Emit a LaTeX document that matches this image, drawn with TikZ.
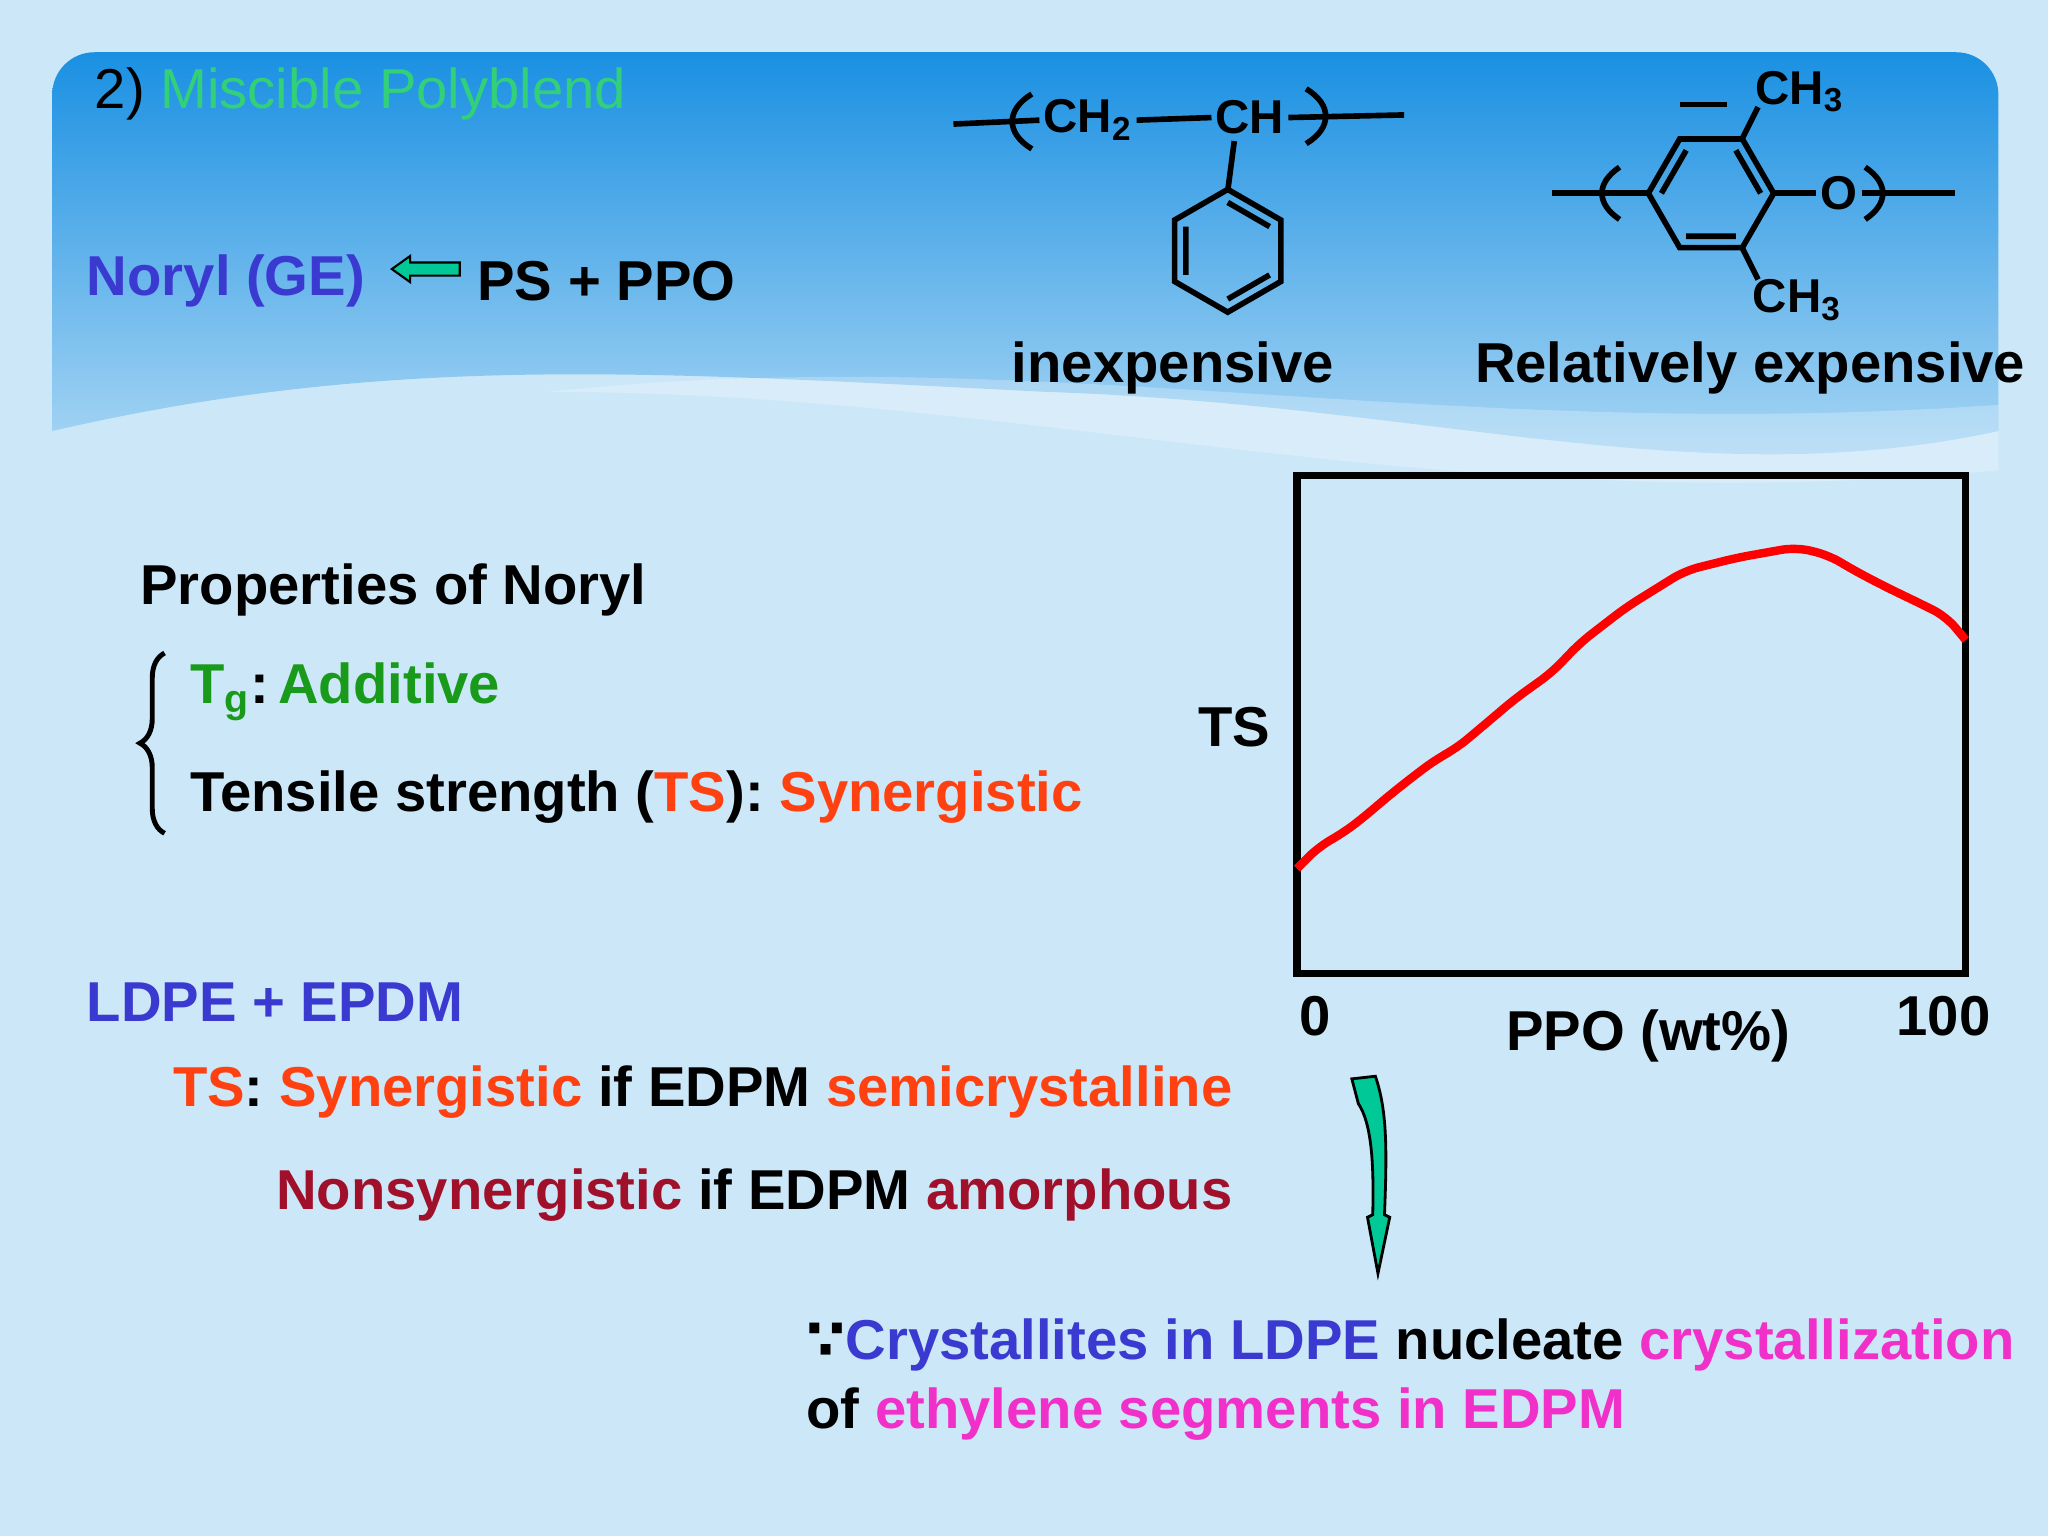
\documentclass[tikz,border=0pt]{standalone}
\usepackage{fontspec}
\setmainfont{Liberation Sans}
\newfontfamily\dejavu{DejaVu Sans}
\usetikzlibrary{decorations.pathreplacing}
\definecolor{bg}{HTML}{CCE8F8}
\definecolor{hdtop}{HTML}{1A90E2}
\definecolor{nblue}{HTML}{3A3AD0}
\definecolor{tgreen}{HTML}{1A9A1A}
\definecolor{lgreen}{HTML}{33D07A}
\definecolor{orred}{HTML}{FF4010}
\definecolor{dred}{HTML}{A0102A}
\definecolor{mag}{HTML}{F030C8}
\definecolor{teal}{HTML}{00C896}
\begin{document}
\begin{tikzpicture}[x=0.013061cm,y=-0.013061cm,
  t/.style={font=\fontsize{16}{18}\selectfont\bfseries,inner sep=0pt},
  ch/.style={font=\fontsize{13.5}{15}\selectfont\bfseries,inner sep=1pt},
  bond/.style={line width=1.6pt}]
\fill[bg] (0,0) rectangle (1568,1176);
\useasboundingbox (0,0) rectangle (1568,1176);
% header
\begin{scope}
\clip[rounded corners=12pt] (40,40) rectangle (1530,400);
\shade[top color=hdtop,bottom color=bg!70!hdtop!70]
 (40,40) -- (1530,40) -- (1530,330)
 .. controls (1300,380) and (1100,310) .. (800,300) .. controls (500,285) and (300,270) .. (40,330) -- cycle;
\end{scope}
\fill[white,opacity=0.25] (420,300) .. controls (800,260) and (1100,340) .. (1530,310) -- (1530,360) .. controls (1100,400) and (800,300) .. (420,300);
% title
\node[anchor=west,font=\fontsize{16}{18}\selectfont,inner sep=0pt] (title) at (72,72) {2) \textcolor{lgreen}{Miscible Polyblend}};
\node[t,anchor=west,text=nblue] (noryl) at (66,215) {Noryl (GE)};
\node[t,anchor=west] (psppo) at (365,215) {PS + PPO};
\draw[fill=teal,line width=0.6pt] (300,206) -- (314,196) -- (314,201) -- (352,201) -- (352,211) -- (314,211) -- (314,216) -- cycle;
% styrene
\node[ch] (ch2) at (833,92) {CH$_{\mathbf 2}$};
\node[ch] (chh) at (957,90) {CH};
\draw[bond] (730,95) -- (ch2.west);
\draw[bond] (ch2.east) -- (chh.west);
\draw[bond] (chh.east) -- (1075,88);
\draw[bond] (790,72) .. controls (770,84) and (770,102) .. (790,114);
\draw[bond] (1000,68) .. controls (1020,80) and (1020,98) .. (1000,110);
\coordinate (bz) at (940,192);
\draw[bond] (945,108) -- (940,146);
\draw[bond] (bz) +(90:47) -- +(30:47) -- +(-30:47) -- +(-90:47) -- +(-150:47) -- +(150:47) -- cycle;
\draw[bond] (bz) +(90:37) -- +(30:37) +(-30:37) -- +(-90:37) +(-150:37) -- +(150:37);
\node[t] (inexp) at (898,282) {inexpensive};
% PPO
\coordinate (pr) at (1310,148);
\draw[bond] (pr) +(0:48) -- +(60:48) -- +(120:48) -- +(180:48) -- +(240:48) -- +(300:48) -- cycle;
\draw[bond] (pr) +(60:38) -- +(120:38) +(180:38) -- +(240:38) +(300:38) -- +(0:38);
\draw[bond] (1188,148) -- (1262,148);
\draw[bond] (1240,128) .. controls (1222,140) and (1222,156) .. (1240,168);
\node[ch] (o) at (1408,148) {O};
\draw[bond] (1358,148) -- (o.west);
\draw[bond] (o.east) -- (1497,148);
\draw[bond] (1428,128) .. controls (1446,140) and (1446,156) .. (1428,168);
\node[ch] (ch3a) at (1378,70) {CH$_{\mathbf 3}$};
\node[ch] (ch3b) at (1376,230) {CH$_{\mathbf 3}$};
\draw[bond] (1334,106) -- (1346,82);
\draw[bond] (1334,190) -- (1346,214);
\draw[bond] (1286,80) -- (1322,80);
\node[t] (rexp) at (1340,282) {Relatively expensive};
% properties
\node[t,anchor=west] (prop) at (107,452) {Properties of Noryl};
\draw[line width=1.4pt,decorate,decoration={brace,amplitude=7pt}] (126,638) -- (126,500);
\node[t,anchor=west,text=tgreen] (tg) at (145,530) {T$_{\mathbf g}$\textcolor{black}{:}\,Additive};
\node[t,anchor=west] (ts) at (145,610) {Tensile strength (\textcolor{orred}{TS}): \textcolor{orred}{Synergistic}};
% chart
\draw[line width=2pt] (993,364) rectangle (1505,745);
\draw[red,line width=2.4pt,rounded corners=4pt] (993,665) -- (1010,648) -- (1028,638) -- (1045,625) -- (1060,612) -- (1080,596) -- (1100,581) -- (1115,573) -- (1140,552) -- (1160,535) -- (1188,515) -- (1210,492) -- (1245,465) -- (1290,437) -- (1330,427) -- (1375,419) -- (1400,425) -- (1420,437) -- (1445,450) -- (1470,462) -- (1490,472) -- (1505,490);
\node[t] (tsl) at (945,557) {TS};
\node[t] (z) at (1007,778) {0};
\node[t] (ppo) at (1262,793) {PPO (wt\%)};
\node[t] (h) at (1488,778) {100};
% LDPE
\node[t,anchor=west,text=nblue] (ldpe) at (66,767) {LDPE + EPDM};
\node[t,anchor=west] (l1) at (132,836) {\textcolor{orred}{TS}: \textcolor{orred}{Synergistic} if EDPM \textcolor{orred}{semicrystalline}};
\node[t,anchor=west] (l2) at (211,915) {\textcolor{dred}{Nonsynergistic} if EDPM \textcolor{dred}{amorphous}};
% arrow
\draw[fill=teal,line width=0.8pt] (1035,826) -- (1053,824) .. controls (1062,850) and (1062,880) .. (1060,930) -- (1064,932) -- (1055,975) -- (1047,932) -- (1051,930) .. controls (1052,890) and (1050,860) .. (1040,845) -- cycle;
\node[t,anchor=west] (c1) at (617,1030) {{\dejavu ∵}\textcolor{nblue}{Crystallites in LDPE} nucleate \textcolor{mag}{crystallization}};
\node[t,anchor=west] (c2) at (617,1083) {of \textcolor{mag}{ethylene segments in EDPM}};
\end{tikzpicture}
\end{document}
